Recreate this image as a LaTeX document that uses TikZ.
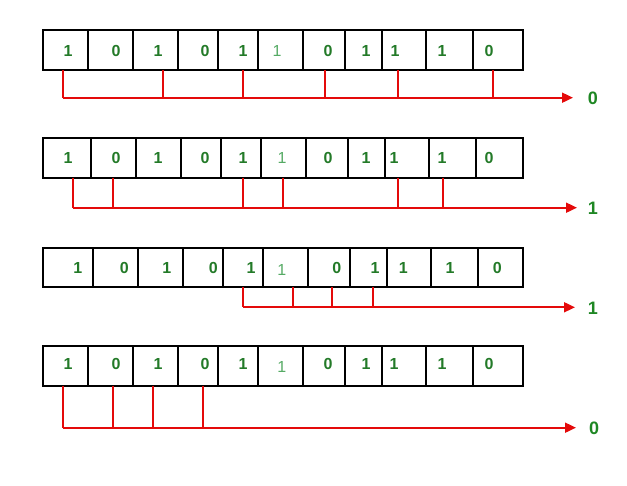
\documentclass[tikz,border=0pt]{standalone}
\usepackage{fontspec}
\setmainfont{Liberation Sans}
\usetikzlibrary{arrows.meta}
\definecolor{dgreen}{RGB}{35,122,40}
\definecolor{lgreen}{RGB}{85,170,100}
\definecolor{ogreen}{RGB}{30,135,35}
\definecolor{rline}{RGB}{228,10,10}
\begin{document}
\begin{tikzpicture}[x=1pt,y=-1pt,
  cell/.style={draw=black,line width=1.8pt,inner sep=0pt,outer sep=0pt},
  digit/.style={text=dgreen,font=\fontsize{16}{19}\selectfont\bfseries,inner sep=0pt},
  digitlight/.style={text=lgreen,font=\fontsize{16}{19}\selectfont,inner sep=0pt},
  outlabel/.style={text=ogreen,font=\fontsize{18}{21}\selectfont\bfseries,inner sep=0pt},
  redline/.style={draw=rline,line width=1.8pt},
  redarrow/.style={redline,-{Triangle[length=11pt,width=10pt]}}]
\useasboundingbox (0,0) rectangle (627,486);
% ---------- row 1 ----------
\foreach \a/\b [count=\i] in {43/88,88/133,133/178,178/218,218/258,258/303,303/345,345/382,382/426,426/473,473/523}
  \node[cell,minimum width={(\b-\a)*1pt},minimum height=40pt] (r1c\i) at ({(\a+\b)/2},50) {};
\foreach \x/\t/\s [count=\i] in {68/1/digit,116/0/digit,158/1/digit,205/0/digit,243/1/digit,277/1/digitlight,328/0/digit,366/1/digit,395/1/digit,442/1/digit,489/0/digit}
  \node[\s] (r1d\i) at (\x,50.7) {\t};
\foreach \x [count=\i] in {62.7,163.3,242.7,325,397.7,493.3}
  \coordinate (r1v\i) at (\x,97.7);
\coordinate (r1end) at (573,97.7);
\node[outlabel] (r1out) at (593,98) {0};
\foreach \i in {1,...,6} \draw[redline] (r1v\i |- r1c1.south) -- (r1v\i);
\draw[redarrow] (r1v1) -- (r1end);
% ---------- row 2 ----------
\foreach \a/\b [count=\i] in {43/91,91/136,136/181,181/221,221/261,261/306,306/348,348/385,385/429,429/476,476/523}
  \node[cell,minimum width={(\b-\a)*1pt},minimum height=40pt] (r2c\i) at ({(\a+\b)/2},157.7) {};
\foreach \x/\t/\s [count=\i] in {68/1/digit,116/0/digit,158/1/digit,205/0/digit,243/1/digit,282/1/digitlight,328/0/digit,366/1/digit,394/1/digit,442/1/digit,489/0/digit}
  \node[\s] (r2d\i) at (\x,158) {\t};
\foreach \x [count=\i] in {72.7,112.7,242.7,282.7,397.7,442.7}
  \coordinate (r2v\i) at (\x,207.7);
\coordinate (r2end) at (577,207.7);
\node[outlabel] (r2out) at (593,208) {1};
\foreach \i in {1,...,6} \draw[redline] (r2v\i |- r2c1.south) -- (r2v\i);
\draw[redarrow] (r2v1) -- (r2end);
% ---------- row 3 ----------
\foreach \a/\b [count=\i] in {43/93,93/138,138/183,183/223,223/263,263/308,308/350,350/387,387/431,431/478,478/523}
  \node[cell,minimum width={(\b-\a)*1pt},minimum height=39pt] (r3c\i) at ({(\a+\b)/2},267.8) {};
\foreach \x/\y/\t/\s [count=\i] in {77.7/268.3/1/digit,124.3/268.3/0/digit,166.7/268.3/1/digit,213.3/268.3/0/digit,251/268.3/1/digit,281.7/270/1/digitlight,336.7/268.3/0/digit,375/268.3/1/digit,403.3/268.3/1/digit,450/268.3/1/digit,497.3/268.3/0/digit}
  \node[\s] (r3d\i) at (\x,\y) {\t};
\foreach \x [count=\i] in {242.7,293.3,331.7,372.7}
  \coordinate (r3v\i) at (\x,307.3);
\coordinate (r3end) at (575,307.3);
\node[outlabel] (r3out) at (593,308) {1};
\foreach \i in {1,...,4} \draw[redline] (r3v\i |- r3c1.south) -- (r3v\i);
\draw[redarrow] (r3v1) -- (r3end);
% ---------- row 4 ----------
\foreach \a/\b [count=\i] in {43/88,88/133,133/178,178/218,218/258,258/303,303/345,345/382,382/426,426/473,473/523}
  \node[cell,minimum width={(\b-\a)*1pt},minimum height=39.7pt] (r4c\i) at ({(\a+\b)/2},365.8) {};
\foreach \x/\y/\t/\s [count=\i] in {68/364.3/1/digit,116/364.3/0/digit,158/364.3/1/digit,205/364.3/0/digit,243/364.3/1/digit,281.7/366.7/1/digitlight,328/364.3/0/digit,366/364.3/1/digit,394/364.3/1/digit,442/364.3/1/digit,489/364.3/0/digit}
  \node[\s] (r4d\i) at (\x,\y) {\t};
\foreach \x [count=\i] in {62.7,112.7,153.3,202.7}
  \coordinate (r4v\i) at (\x,427.7);
\coordinate (r4end) at (576,427.7);
\node[outlabel] (r4out) at (594,428) {0};
\foreach \i in {1,...,4} \draw[redline] (r4v\i |- r4c1.south) -- (r4v\i);
\draw[redarrow] (r4v1) -- (r4end);
\end{tikzpicture}
\end{document}
